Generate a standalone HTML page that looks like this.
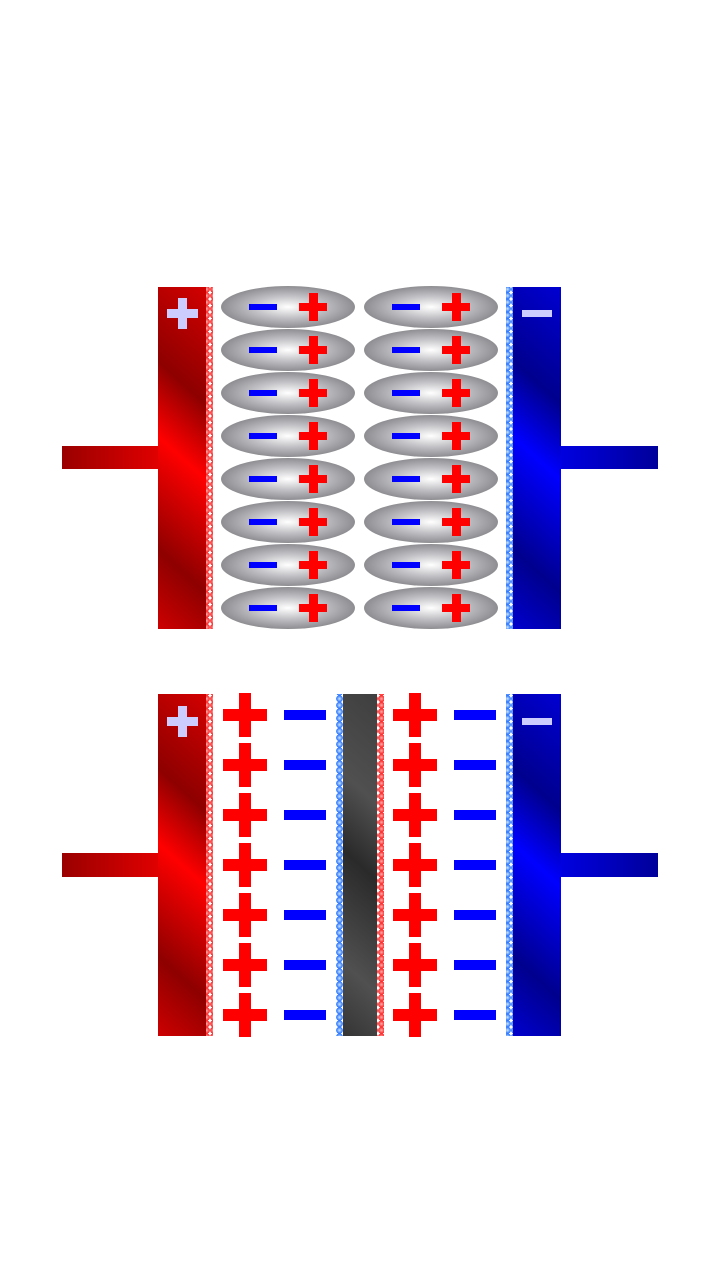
<!DOCTYPE html>
<html><head><style>html,body{margin:0;padding:0;background:#fff}</style></head>
<body>
<svg width="720" height="1280" viewBox="0 0 720 1280" xmlns="http://www.w3.org/2000/svg">
<defs>
<linearGradient id="rp" gradientUnits="userSpaceOnUse" x1="316" y1="310" x2="48" y2="606">
<stop offset="0.1" stop-color="#e00000"/><stop offset="0.36" stop-color="#8e0000"/><stop offset="0.5" stop-color="#ff0000"/><stop offset="0.71" stop-color="#8e0000"/><stop offset="0.9" stop-color="#e00000"/></linearGradient>
<linearGradient id="bp" gradientUnits="userSpaceOnUse" x1="671" y1="310" x2="403" y2="606">
<stop offset="0.1" stop-color="#0000e0"/><stop offset="0.36" stop-color="#00008e"/><stop offset="0.5" stop-color="#0000ff"/><stop offset="0.71" stop-color="#00008e"/><stop offset="0.9" stop-color="#0000e0"/></linearGradient>
<linearGradient id="rp2" gradientUnits="userSpaceOnUse" x1="316" y1="717" x2="48" y2="1013">
<stop offset="0.1" stop-color="#e00000"/><stop offset="0.36" stop-color="#8e0000"/><stop offset="0.5" stop-color="#ff0000"/><stop offset="0.71" stop-color="#8e0000"/><stop offset="0.9" stop-color="#e00000"/></linearGradient>
<linearGradient id="bp2" gradientUnits="userSpaceOnUse" x1="671" y1="717" x2="403" y2="1013">
<stop offset="0.1" stop-color="#0000e0"/><stop offset="0.36" stop-color="#00008e"/><stop offset="0.5" stop-color="#0000ff"/><stop offset="0.71" stop-color="#00008e"/><stop offset="0.9" stop-color="#0000e0"/></linearGradient>
<linearGradient id="dk" gradientUnits="userSpaceOnUse" x1="494" y1="717" x2="226" y2="1013">
<stop offset="0.1" stop-color="#3a3a3a"/><stop offset="0.36" stop-color="#505050"/><stop offset="0.5" stop-color="#2a2a2a"/><stop offset="0.71" stop-color="#505050"/><stop offset="0.9" stop-color="#2a2a2a"/></linearGradient>
<linearGradient id="rl" x1="0" x2="1"><stop offset="0" stop-color="#9a0000"/><stop offset="1" stop-color="#e00000"/></linearGradient>
<linearGradient id="bl" x1="0" x2="1"><stop offset="0" stop-color="#0000e0"/><stop offset="1" stop-color="#00009a"/></linearGradient>
<radialGradient id="el" cx="0.5" cy="0.5" r="0.5"><stop offset="0" stop-color="#fff"/><stop offset="0.5" stop-color="#c4c4c8"/><stop offset="1" stop-color="#8e8e92"/></radialGradient>
<radialGradient id="rd"><stop offset="0" stop-color="#ffb0b0"/><stop offset="1" stop-color="#ff1a1a"/></radialGradient>
<radialGradient id="bd"><stop offset="0" stop-color="#d0e8ff"/><stop offset="1" stop-color="#1a6aff"/></radialGradient>
<pattern id="rdp" width="7" height="6.5" patternUnits="userSpaceOnUse"><circle cx="3.5" cy="3.25" r="3.4" fill="url(#rd)"/></pattern>
<pattern id="bdp" width="7" height="6.5" patternUnits="userSpaceOnUse"><circle cx="3.5" cy="3.25" r="3.4" fill="url(#bd)"/></pattern>
<g id="ell"><ellipse cx="0" cy="0" rx="67" ry="21" fill="url(#el)"/><rect x="-39" y="-3" width="28" height="6" fill="#0000ff"/><rect x="11" y="-4" width="28" height="8" fill="#ff0000"/><rect x="21" y="-14" width="9" height="28" fill="#ff0000"/></g>
<g id="bplus"><rect x="-22" y="-6" width="44" height="12" fill="#ff0000"/><rect x="-6" y="-22" width="12" height="44" fill="#ff0000"/></g>
<g id="bmin"><rect x="0" y="-5" width="42" height="10" fill="#0000ff"/></g>
</defs>
<!-- top -->
<rect x="62" y="446" width="96" height="23" fill="url(#rl)"/>
<rect x="561" y="446" width="97" height="23" fill="url(#bl)"/>
<rect x="158" y="287" width="49" height="342" fill="url(#rp)"/>
<rect x="513" y="287" width="48" height="342" fill="url(#bp)"/>
<rect x="206" y="287" width="7" height="342" fill="url(#rdp)"/>
<rect x="506" y="287" width="7" height="342" fill="url(#bdp)"/>
<rect x="167" y="309" width="31" height="9" fill="#ccccff"/><rect x="178" y="298" width="9" height="31" fill="#ccccff"/>
<rect x="522" y="310" width="30" height="7" fill="#ccccff"/>
<g>
<use href="#ell" x="288" y="307"/><use href="#ell" x="431" y="307"/>
<use href="#ell" x="288" y="350"/><use href="#ell" x="431" y="350"/>
<use href="#ell" x="288" y="393"/><use href="#ell" x="431" y="393"/>
<use href="#ell" x="288" y="436"/><use href="#ell" x="431" y="436"/>
<use href="#ell" x="288" y="479"/><use href="#ell" x="431" y="479"/>
<use href="#ell" x="288" y="522"/><use href="#ell" x="431" y="522"/>
<use href="#ell" x="288" y="565"/><use href="#ell" x="431" y="565"/>
<use href="#ell" x="288" y="608"/><use href="#ell" x="431" y="608"/>
</g>
<!-- bottom -->
<rect x="62" y="853" width="96" height="24" fill="url(#rl)"/>
<rect x="561" y="853" width="97" height="24" fill="url(#bl)"/>
<rect x="158" y="694" width="49" height="342" fill="url(#rp2)"/>
<rect x="513" y="694" width="48" height="342" fill="url(#bp2)"/>
<rect x="206" y="694" width="7" height="342" fill="url(#rdp)"/>
<rect x="506" y="694" width="7" height="342" fill="url(#bdp)"/>
<rect x="343" y="694" width="34" height="342" fill="url(#dk)"/>
<rect x="336" y="694" width="7" height="342" fill="url(#bdp)"/>
<rect x="377" y="694" width="7" height="342" fill="url(#rdp)"/>
<rect x="167" y="717" width="31" height="9" fill="#ccccff"/><rect x="178" y="706" width="9" height="31" fill="#ccccff"/>
<rect x="522" y="718" width="30" height="7" fill="#ccccff"/>
<g>
<use href="#bplus" x="245" y="715"/><use href="#bmin" x="284" y="715"/><use href="#bplus" x="415" y="715"/><use href="#bmin" x="454" y="715"/>
<use href="#bplus" x="245" y="765"/><use href="#bmin" x="284" y="765"/><use href="#bplus" x="415" y="765"/><use href="#bmin" x="454" y="765"/>
<use href="#bplus" x="245" y="815"/><use href="#bmin" x="284" y="815"/><use href="#bplus" x="415" y="815"/><use href="#bmin" x="454" y="815"/>
<use href="#bplus" x="245" y="865"/><use href="#bmin" x="284" y="865"/><use href="#bplus" x="415" y="865"/><use href="#bmin" x="454" y="865"/>
<use href="#bplus" x="245" y="915"/><use href="#bmin" x="284" y="915"/><use href="#bplus" x="415" y="915"/><use href="#bmin" x="454" y="915"/>
<use href="#bplus" x="245" y="965"/><use href="#bmin" x="284" y="965"/><use href="#bplus" x="415" y="965"/><use href="#bmin" x="454" y="965"/>
<use href="#bplus" x="245" y="1015"/><use href="#bmin" x="284" y="1015"/><use href="#bplus" x="415" y="1015"/><use href="#bmin" x="454" y="1015"/>
</g>
</svg>
</body></html>
